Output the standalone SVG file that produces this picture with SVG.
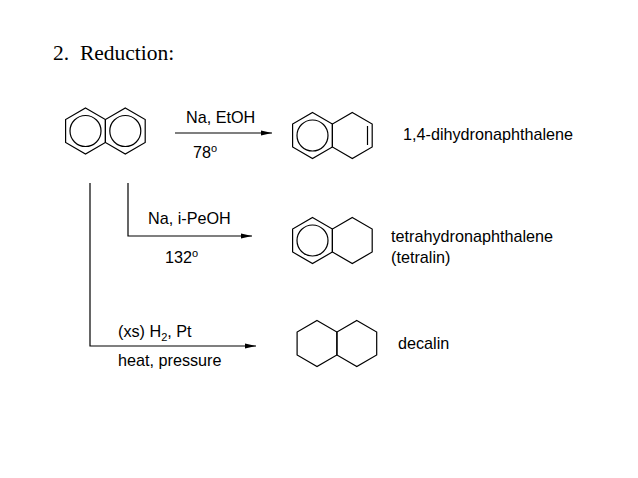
<svg xmlns="http://www.w3.org/2000/svg" width="638" height="478" viewBox="0 0 638 478">
<style>
.b{fill:none;stroke:#000;stroke-width:1.2}
.t{font-family:"Liberation Sans",Arial,sans-serif;font-size:16.2px;fill:#000}
</style>
<defs>
<marker id="a" markerWidth="12" markerHeight="8" refX="11" refY="4" orient="auto" markerUnits="userSpaceOnUse"><path d="M0,1.5 L11,4 L0,6.5Z" fill="#000"/></marker>
<polygon id="h" points="0,-23 19.9,-11.5 19.9,11.5 0,23 -19.9,11.5 -19.9,-11.5"/>
</defs>
<rect width="638" height="478" fill="#fff"/>
<text x="53" y="60" font-family="Liberation Serif,serif" font-size="21.5" style="white-space:pre">2.  Reduction:</text>
<g id="naphthalene" class="b"><use href="#h" x="85.5" y="131"/><use href="#h" x="125.3" y="131"/><circle cx="85.5" cy="131" r="15.5"/><circle cx="125.3" cy="131" r="15.5"/></g>
<g id="dihydro" class="b"><use href="#h" x="312.5" y="135.5"/><use href="#h" x="352.3" y="135.5"/><circle cx="312.5" cy="135.5" r="15.5"/><line x1="367.5" y1="126" x2="367.5" y2="145"/></g>
<g id="tetralin" class="b"><use href="#h" x="312.5" y="240.5"/><use href="#h" x="352.3" y="240.5"/><circle cx="312.5" cy="240.5" r="15.5"/></g>
<g id="decalin" class="b"><use href="#h" x="317" y="343.5"/><use href="#h" x="356.8" y="343.5"/></g>
<g id="connectors" class="b">
<line x1="175" y1="133" x2="272" y2="133" marker-end="url(#a)"/>
<polyline points="128,183 128,236 252,236" marker-end="url(#a)"/>
<polyline points="90,183 90,346 256,346" marker-end="url(#a)"/>
</g>
<g id="labels" class="t">
<text x="186" y="123">Na, EtOH</text>
<text x="193" y="158">78<tspan font-size="11" dy="-6">o</tspan></text>
<text x="148" y="224">Na, i-PeOH</text>
<text x="165" y="263">132<tspan font-size="11" dy="-6">o</tspan></text>
<text x="118" y="337">(xs) H<tspan font-size="11" dy="4">2</tspan><tspan dy="-4">, Pt</tspan></text>
<text x="118" y="366">heat, pressure</text>
<text x="403" y="140">1,4-dihydronaphthalene</text>
<text x="391" y="242">tetrahydronaphthalene</text>
<text x="391" y="263">(tetralin)</text>
<text x="398" y="349">decalin</text>
</g>
</svg>
